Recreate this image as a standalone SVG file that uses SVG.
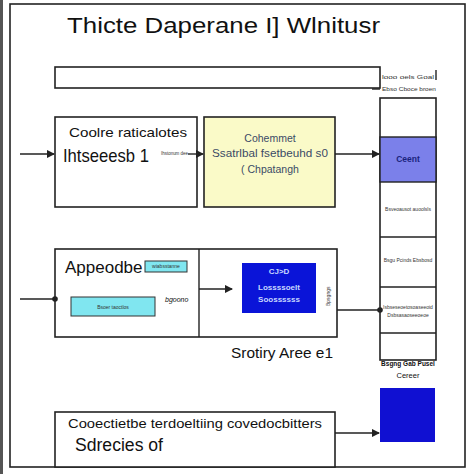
<svg xmlns="http://www.w3.org/2000/svg" width="474" height="474" viewBox="0 0 474 474">
<defs>
<style>
.box{fill:#fff;stroke:#222;stroke-width:1.6}
.ln{fill:none;stroke:#222;stroke-width:1.4}
.t{font-family:"Liberation Sans",Arial,sans-serif;fill:#111}
.s{font-family:"Liberation Sans",Arial,sans-serif;fill:#333;font-size:5px}
</style>
<marker id="ah" viewBox="0 0 8 8" refX="7" refY="4" markerWidth="6" markerHeight="6" orient="auto"><path d="M0,0 L8,4 L0,8 z" fill="#222"/></marker>
<marker id="dot" viewBox="0 0 6 6" refX="3" refY="3" markerWidth="4" markerHeight="4"><circle cx="3" cy="3" r="3" fill="#222"/></marker>
</defs>
<rect width="474" height="474" fill="#fff"/>
<rect x="0" y="0" width="3" height="474" fill="#555"/>
<rect x="10" y="4" width="455" height="463" fill="none" stroke="#222" stroke-width="1.6"/>
<text class="t" x="67" y="33" font-size="22" textLength="313" lengthAdjust="spacingAndGlyphs">Thicte Daperane I] Wlnitusr</text>

<g id="topbar">
<rect class="box" x="55" y="67" width="325" height="21"/>
<text class="s" x="382" y="79" font-size="6.5" textLength="52" lengthAdjust="spacingAndGlyphs">looo oels Goal</text>
<line class="ln" x1="436" y1="70" x2="436" y2="80"/>
<text class="s" x="382" y="91" font-size="6.5" textLength="54" lengthAdjust="spacingAndGlyphs">Ebso Cboce broen</text>
</g>

<g id="column">
<rect class="box" x="380" y="98" width="56" height="262"/>
<rect x="380" y="137" width="56" height="45" fill="#7b80ea" stroke="#222" stroke-width="1.4"/>
<text class="t" x="408" y="162" font-size="8.5" font-weight="bold" text-anchor="middle" style="fill:#1a237e">Ceent</text>
<line class="ln" x1="380" y1="237" x2="436" y2="237"/>
<line class="ln" x1="380" y1="287" x2="436" y2="287"/>
<line class="ln" x1="380" y1="333" x2="436" y2="333"/>
<text class="s" x="408" y="211" text-anchor="middle">Bsveoausot auoolsls</text>
<text class="s" x="408" y="262" text-anchor="middle">Bsgu Pcinds Ebsbosd</text>
<text class="s" x="408" y="309" text-anchor="middle">Isbseseoetosoaseeoid</text>
<text class="s" x="408" y="317" text-anchor="middle">Dsbsasaoseeoeoe</text>
<text class="t" x="408" y="366" font-size="6.5" font-weight="bold" text-anchor="middle">Bsgng Gab Pusel</text>
<text class="t" x="408" y="378" font-size="7.5" text-anchor="middle">Cereer</text>
</g>

<g id="darkbox">
<rect x="380" y="388" width="55" height="54" fill="#1010d2"/>
</g>

<g id="box1">
<rect class="box" x="55" y="117" width="142" height="90"/>
<text class="t" x="69" y="137" font-size="13" textLength="118" lengthAdjust="spacingAndGlyphs">Coolre raticalotes</text>
<text class="t" x="63" y="162" font-size="19" textLength="86" lengthAdjust="spacingAndGlyphs">Ihtseeesb 1</text>
</g>

<g id="box2">
<rect x="204" y="117" width="131" height="90" fill="#fafac8" stroke="#222" stroke-width="1.6"/>
<g font-family="Liberation Sans,Arial,sans-serif" font-size="10.5" fill="#3a4a66" text-anchor="middle">
<text x="270" y="142">Cohemmet</text>
<text x="270" y="157" textLength="116" lengthAdjust="spacingAndGlyphs">Ssatrlbal fsetbeuhd s0</text>
<text x="270" y="173">( Chpatangh</text>
</g>
</g>

<g id="box3">
<rect class="box" x="55" y="249" width="282" height="88"/>
<line class="ln" x1="199" y1="249" x2="199" y2="337"/>
<text class="t" x="65" y="273" font-size="17">Appeodbe</text>
<rect x="145" y="261" width="42" height="11" fill="#80e6f0" stroke="#333" stroke-width="1"/>
<text class="s" x="166" y="268" text-anchor="middle" font-size="4">wiabsstanne</text>
<rect x="71" y="297" width="84" height="19" fill="#80e6f0" stroke="#333" stroke-width="1"/>
<text class="s" x="113" y="309" text-anchor="middle" font-size="5.5">Bsoer taoctlos</text>
<text class="t" x="165" y="302" font-size="7" font-style="italic">bgoono</text>
<rect x="242" y="263" width="74" height="50" fill="#0a14d8"/>
<g font-family="Liberation Sans,Arial,sans-serif" font-size="8" font-weight="bold" fill="#c8d8ff" text-anchor="middle">
<text x="279" y="274">CJ&gt;D</text>
<text x="279" y="290">Lossssoelt</text>
<text x="279" y="302">Soossssss</text>
</g>
<text class="s" x="0" y="0" font-size="5" transform="translate(330,306) rotate(-90)">Bpsgngs</text>
<text class="t" x="231" y="358" font-size="15" textLength="102" lengthAdjust="spacingAndGlyphs">Srotiry  Aree e1</text>
</g>

<g id="box4">
<rect class="box" x="55" y="412" width="280" height="55"/>
<text class="t" x="68" y="428" font-size="13" textLength="254" lengthAdjust="spacingAndGlyphs">Cooectietbe terdoeltiing covedocbitters</text>
<text class="t" x="75" y="451" font-size="18" textLength="88" lengthAdjust="spacingAndGlyphs">Sdrecies of</text>
</g>

<g id="connectors">
<line class="ln" x1="20" y1="154" x2="54" y2="154" marker-end="url(#ah)"/>
<text class="s" x="161" y="155" font-size="4.5" textLength="27" lengthAdjust="spacingAndGlyphs">Ihstonum dee</text>
<line class="ln" x1="188" y1="154" x2="203" y2="154" marker-end="url(#ah)"/>
<line class="ln" x1="335" y1="154" x2="379" y2="154" marker-end="url(#ah)"/>
<line class="ln" x1="372" y1="89" x2="380" y2="89"/>
<line class="ln" x1="20" y1="299" x2="55" y2="299" marker-end="url(#dot)"/>
<line class="ln" x1="199" y1="289" x2="232" y2="289" marker-end="url(#ah)"/>
<line class="ln" x1="337" y1="310" x2="380" y2="310" marker-end="url(#dot)"/>
<line class="ln" x1="335" y1="433" x2="379" y2="433" marker-end="url(#ah)"/>
</g>
</svg>
